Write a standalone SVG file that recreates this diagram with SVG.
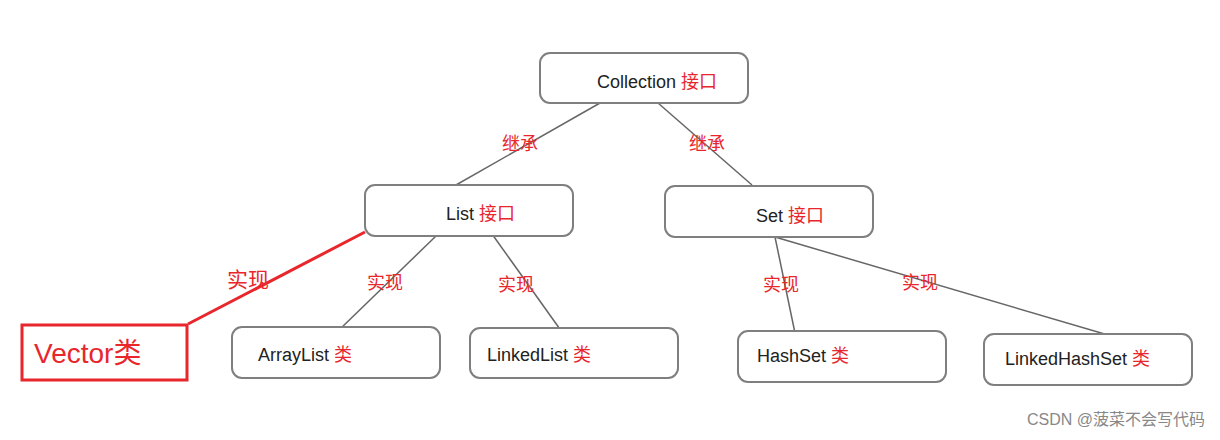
<svg xmlns="http://www.w3.org/2000/svg" width="1220" height="440" viewBox="0 0 1220 440">
<style>
.n{fill:#fff;stroke:#7f7f7f;stroke-width:2}
.t{font-family:"Liberation Sans","Noto Sans CJK SC",sans-serif;font-size:18px;fill:#222}
.r{font-family:"Liberation Sans","Noto Sans CJK SC",sans-serif;font-size:18px;fill:#e8262c}
.l{stroke:#666;stroke-width:1.5}
</style>
<rect width="1220" height="440" fill="#fff"/>
<g id="connectors">
<line class="l" x1="600" y1="103" x2="456" y2="185"/>
<line class="l" x1="658" y1="103" x2="752" y2="185"/>
<line class="l" x1="436" y1="236" x2="338" y2="331"/>
<line class="l" x1="492" y1="234" x2="562" y2="332"/>
<line class="l" x1="775" y1="237" x2="795" y2="333"/>
<line class="l" x1="775" y1="237" x2="1108" y2="335"/>
<line x1="365" y1="232" x2="188" y2="324" stroke="#e8262c" stroke-width="3"/>
<text class="r" x="520" y="150" text-anchor="middle">继承</text>
<text class="r" x="707" y="150" text-anchor="middle">继承</text>
<text class="r" x="248" y="287" text-anchor="middle" style="font-size:21px">实现</text>
<text class="r" x="385" y="289" text-anchor="middle">实现</text>
<text class="r" x="516" y="291" text-anchor="middle">实现</text>
<text class="r" x="781" y="291" text-anchor="middle">实现</text>
<text class="r" x="920" y="289" text-anchor="middle">实现</text>
</g>
<g id="collection"><rect class="n" x="540" y="53" width="208" height="50" rx="10"/><text class="t" x="597" y="88">Collection <tspan class="r">接口</tspan></text></g>
<g id="list"><rect class="n" x="365" y="185" width="208" height="51" rx="10"/><text class="t" x="446" y="220">List <tspan class="r">接口</tspan></text></g>
<g id="set"><rect class="n" x="665" y="186" width="208" height="51" rx="10"/><text class="t" x="756" y="222">Set <tspan class="r">接口</tspan></text></g>
<g id="arraylist"><rect class="n" x="232" y="327" width="208" height="51" rx="10"/><text class="t" x="258" y="361">ArrayList <tspan class="r">类</tspan></text></g>
<g id="linkedlist"><rect class="n" x="470" y="328" width="208" height="50" rx="10"/><text class="t" x="487" y="361">LinkedList <tspan class="r">类</tspan></text></g>
<g id="hashset"><rect class="n" x="738" y="331" width="208" height="51" rx="10"/><text class="t" x="757" y="362">HashSet <tspan class="r">类</tspan></text></g>
<g id="linkedhashset"><rect class="n" x="984" y="334" width="208" height="51" rx="10"/><text class="t" x="1005" y="365">LinkedHashSet <tspan class="r">类</tspan></text></g>
<g id="vector"><rect x="22" y="325" width="165" height="55" fill="#fff" stroke="#e8262c" stroke-width="3"/><text x="34" y="363" style="font-family:'Liberation Sans','Noto Sans CJK SC',sans-serif;font-size:28px;fill:#e8262c">Vector类</text></g>
<text x="1205" y="425" text-anchor="end" style="font-family:'Liberation Sans','Noto Sans CJK SC',sans-serif;font-size:16px;fill:#888">CSDN @菠菜不会写代码</text>
</svg>
